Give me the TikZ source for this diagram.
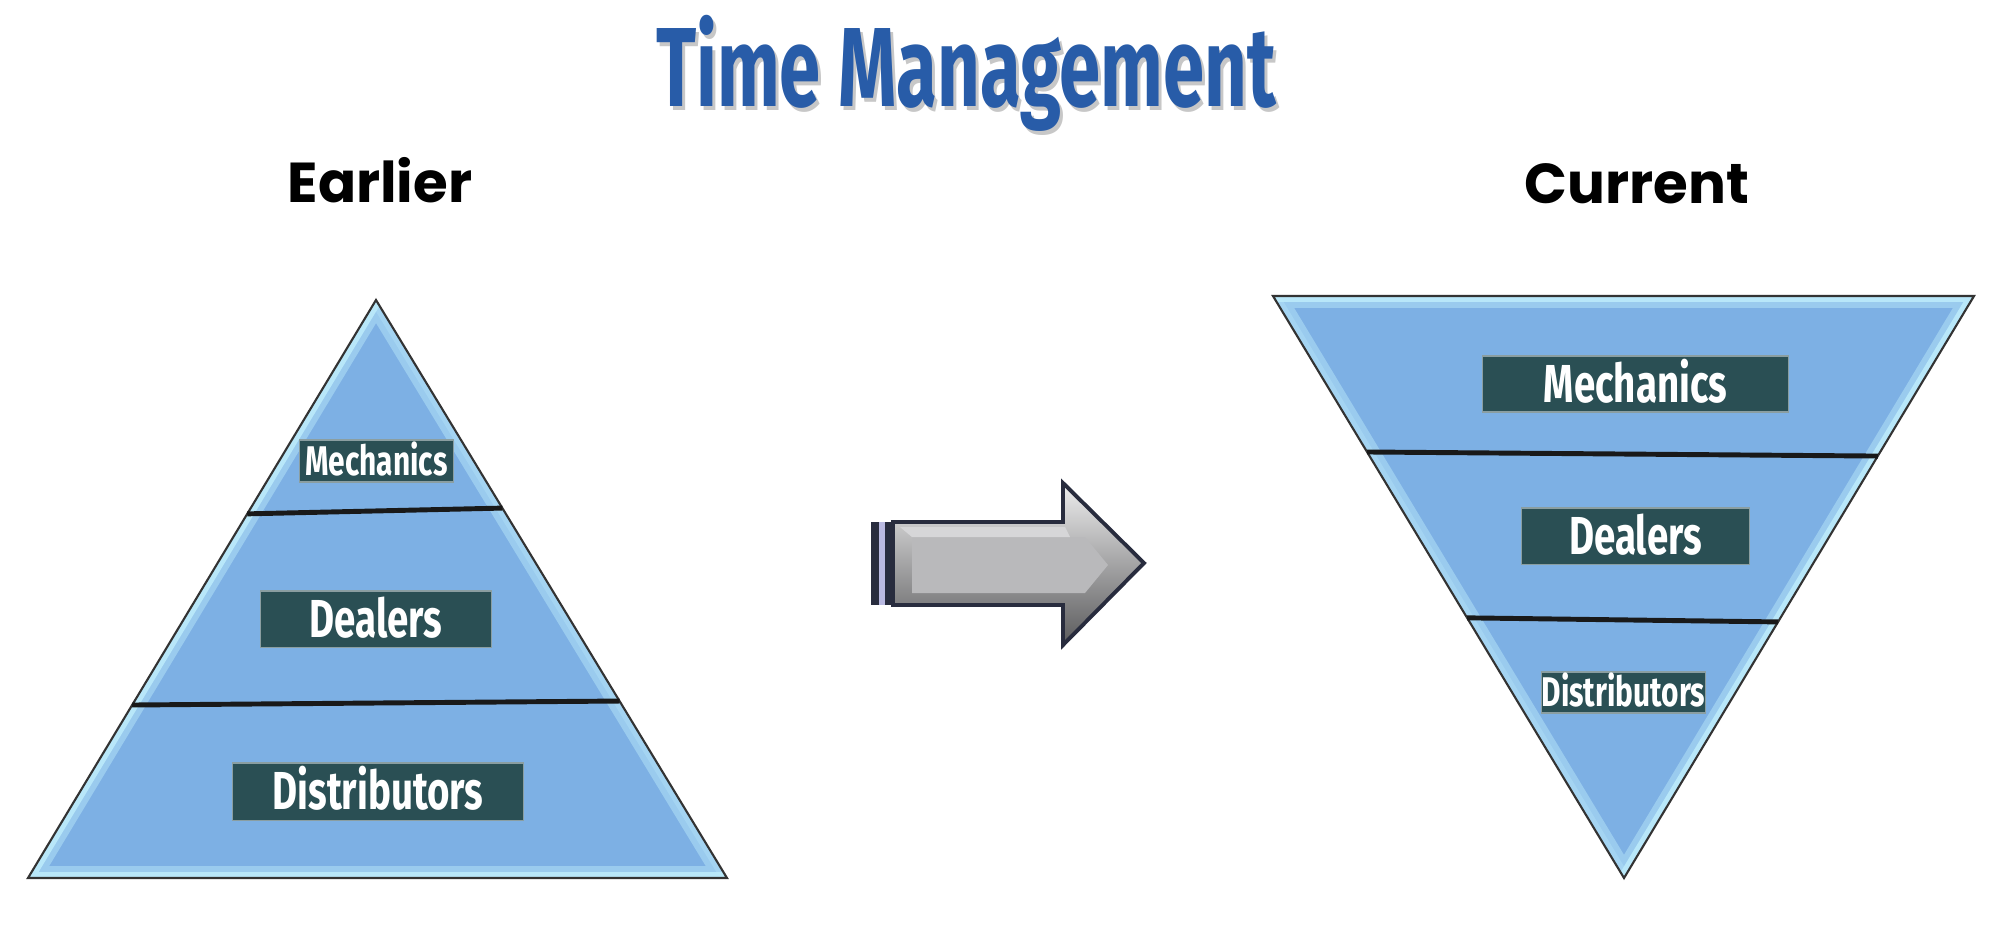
\documentclass[tikz,border=0pt]{standalone}
\usepackage{fontspec}
\setmainfont{Fira Sans}
\newfontfamily\titlefont[FakeStretch=0.66]{Fira Sans}
\newfontfamily\labfont[FakeStretch=0.72]{Fira Sans}
\newfontfamily\headfont{Poppins}
\usetikzlibrary{calc}
\definecolor{titleblue}{RGB}{40,92,168}
\definecolor{pyrfill}{RGB}{125,176,228}
\definecolor{pyrlight}{RGB}{190,236,252}
\definecolor{boxteal}{RGB}{42,79,84}
\definecolor{arrowdark}{RGB}{40,44,62}
\definecolor{arrowgray}{RGB}{165,165,168}
\begin{document}
\begin{tikzpicture}[x=0.01cm,y=-0.01cm,
  lab/.style={fill=boxteal, draw=white!45!boxteal, line width=0.3pt, text=white, inner sep=0pt,
    font=\labfont\bfseries\fontsize{15.2}{15.2}\selectfont, text height=10.5pt, text depth=0pt},
  labsmall/.style={lab, font=\labfont\bfseries\fontsize{11.8}{11.8}\selectfont, text height=8.1pt},
  edge/.style={draw=black!80, line width=0.6pt, line join=miter},
  divider/.style={draw=black!90, line width=1.4pt},
  bandwide/.style={draw=pyrlight, line width=6.8pt, opacity=0.45, line join=miter},
  bandnarrow/.style={draw=pyrlight, line width=3.4pt, opacity=0.85, line join=miter},
  headtext/.style={font=\headfont\bfseries\fontsize{16}{16}\selectfont, anchor=base},
  titletext/.style={font=\titlefont\bfseries\fontsize{32}{32}\selectfont, anchor=base},
]
\useasboundingbox (0,0) rectangle (2000,939);
\fill[white] (0,0) rectangle (2000,939);

% title
\node[titletext, text=black!22] (tshadow) at (969,110) {Time Management};
\node[titletext, text=titleblue] (title) at (966,106) {Time Management};

% headings
\node[headtext] (earlier) at (380,202) {Earlier};
\node[headtext] (current) at (1637,203) {Current};

% left pyramid
\coordinate (A) at (376,300);
\coordinate (BL) at (28,878);
\coordinate (BR) at (727,878);
\begin{scope}
  \clip (A) -- (BL) -- (BR) -- cycle;
  \fill[pyrfill] (A) -- (BL) -- (BR) -- cycle;
  \draw[bandwide] (A) -- (BL) -- (BR) -- (A);
  \draw[bandnarrow] (A) -- (BL) -- (BR);
  \draw[bandnarrow, opacity=0.3] (BR) -- (A);
\end{scope}
\draw[edge] (A) -- (BL) -- (BR) -- cycle;
\draw[divider] ($(A)!0.370!(BL)$) -- ($(A)!0.360!(BR)$);
\draw[divider] ($(A)!0.7007!(BL)$) -- ($(A)!0.6938!(BR)$);

\node[labsmall, minimum width=1.53cm, minimum height=0.42cm] (lmech) at (376.5,461) {Mechanics};
\node[lab, minimum width=2.30cm, minimum height=0.56cm] (ldeal) at (376,619) {Dealers};
\node[lab, minimum width=2.90cm, minimum height=0.57cm] (ldist) at (378,791.5) {Distributors};

% right (inverted) pyramid
\coordinate (TL) at (1273,296);
\coordinate (TR) at (1974,296);
\coordinate (B) at (1624,878);
\begin{scope}
  \clip (TL) -- (TR) -- (B) -- cycle;
  \fill[pyrfill] (TL) -- (TR) -- (B) -- cycle;
  \draw[bandwide] (TL) -- (TR) -- (B) -- (TL);
  \draw[bandnarrow] (TL) -- (TR) -- (B);
  \draw[bandnarrow, opacity=0.3] (B) -- (TL);
\end{scope}
\draw[edge] (TL) -- (TR) -- (B) -- cycle;
\draw[divider] ($(TL)!0.268!(B)$) -- ($(TR)!0.275!(B)$);
\draw[divider] ($(TL)!0.553!(B)$) -- ($(TR)!0.560!(B)$);

\node[lab, minimum width=3.05cm, minimum height=0.56cm] (rmech) at (1635.5,384) {Mechanics};
\node[lab, minimum width=2.27cm, minimum height=0.56cm] (rdeal) at (1635.5,536) {Dealers};
\node[labsmall, minimum width=1.63cm, minimum height=0.41cm] (rdist) at (1623.5,692.5) {Distributors};

% arrow
\coordinate (s1) at (893,522);
\coordinate (s2) at (1063,522);
\coordinate (h1) at (1063,483);
\coordinate (tip) at (1144,563);
\coordinate (h2) at (1063,645);
\coordinate (s3) at (1063,605);
\coordinate (s4) at (893,605);
\fill[arrowgray!70!blue!50!white] (871,522) rectangle (893,605);
\fill[arrowdark] (871,522) rectangle (879,605);
\fill[arrowdark] (885,522) rectangle (891,605);
\shade[top color=white!80!arrowgray, middle color=arrowgray, bottom color=black!45!arrowgray]
  (s1) -- (s2) -- (h1) -- (tip) -- (h2) -- (s3) -- (s4) -- cycle;
\fill[white!22!arrowgray] (912,537) -- (1085,537) -- (1108,565) -- (1085,593) -- (912,593) -- cycle;
\fill[white!55!arrowgray] (900,527) -- (1065,527) -- (1070,537) -- (912,537) -- cycle;
\draw[arrowdark, line width=1.1pt, line join=miter] (s1) -- (s2) -- (h1) -- (tip) -- (h2) -- (s3) -- (s4) -- cycle;
\end{tikzpicture}
\end{document}
